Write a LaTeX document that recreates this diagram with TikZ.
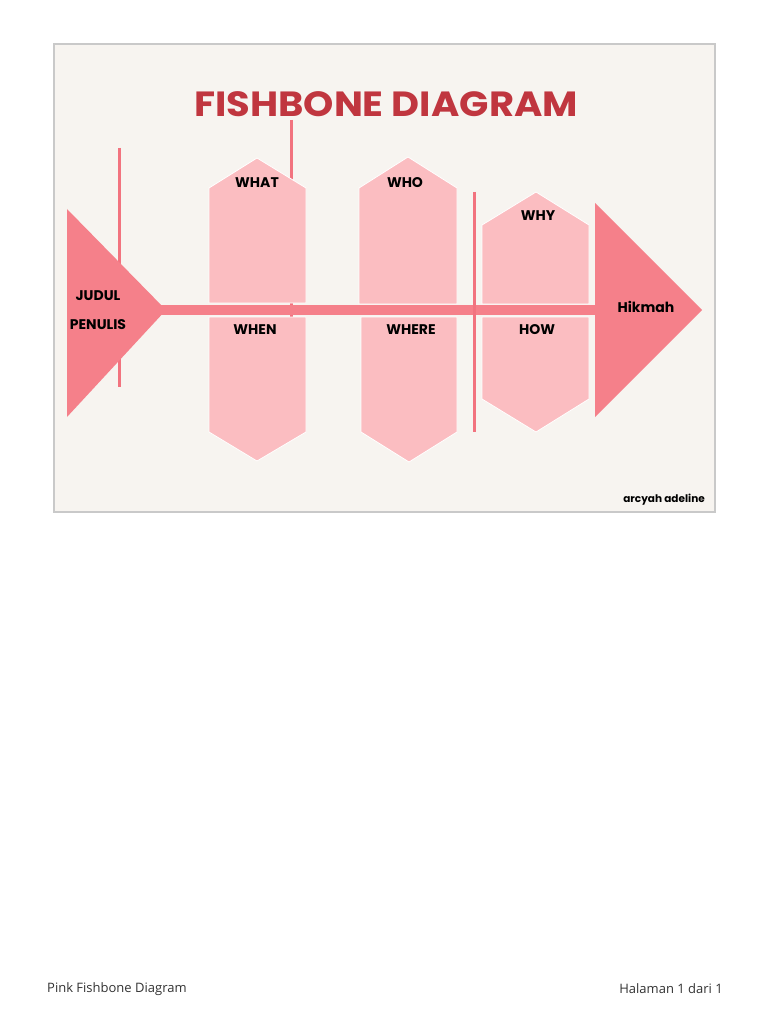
\documentclass[tikz,border=0pt]{standalone}
\usepackage{fontspec}
\setmainfont{Open Sans}
\newfontfamily\pop{Poppins}
\definecolor{bgc}{HTML}{F7F4F0}
\definecolor{framec}{HTML}{C9C9C9}
\definecolor{titlec}{HTML}{C0363F}
\definecolor{darkpink}{HTML}{F5808A}
\definecolor{lightpink}{HTML}{FBBDC1}
\definecolor{bonec}{HTML}{F2737F}
\definecolor{footc}{HTML}{333333}
\begin{document}
\begin{tikzpicture}[x=1pt,y=-1pt,
  lbl/.style={font=\pop\bfseries\fontsize{14}{16}\selectfont, text=black, inner sep=0pt, anchor=center},
  pent/.style={fill=lightpink, draw=white, line width=0.8pt},
  head/.style={fill=darkpink},
  bone/.style={draw=bonec, line width=3pt},
  foot/.style={font=\fontsize{13}{15}\selectfont, text=footc, inner sep=0pt}]
\useasboundingbox (0,0) rectangle (768,1024);
\fill[white] (0,0) rectangle (768,1024);
\draw[framec, fill=bgc, line width=1.3pt] (54,44) rectangle (715,512);
% title
\node[font=\pop\bfseries\fontsize{35}{38}\selectfont, text=titlec, inner sep=0pt] (title) at (386,104) {\scalebox{1.1}[1]{FISHBONE DIAGRAM}};
% bones behind shapes
\coordinate (b1t) at (119,148); \coordinate (b1b) at (119,387);
\coordinate (b2t) at (291,120); \coordinate (b2b) at (291,317);
\coordinate (b3t) at (474,192); \coordinate (b3b) at (474,432);
\draw[bone] (b1t) -- (b1b);
\draw[bone] (b2t) -- (b2b);
% spine
\fill[darkpink] (160,305) rectangle (597,315);
% tail triangle
\fill[head] (67,209) -- (166,310) -- (67,417) -- cycle;
% head triangle
\fill[head] (595,203) -- (702,310) -- (595,417) -- cycle;
% pentagons
\path[pent] (209,303) -- (209,188) -- (257,158) -- (306,188) -- (306,303) -- cycle;
\path[pent] (209,317) -- (209,432) -- (257,461) -- (306,432) -- (306,317) -- cycle;
\path[pent] (359,304) -- (359,188) -- (408,157) -- (457,188) -- (457,304) -- cycle;
\path[pent] (361,317) -- (361,432) -- (409,462) -- (457,432) -- (457,317) -- cycle;
\path[pent] (482,304) -- (482,225) -- (536,192) -- (589,225) -- (589,304) -- cycle;
\path[pent] (482,317) -- (482,399) -- (536,432) -- (589,399) -- (589,317) -- cycle;
\draw[bone] (b3t) -- (b3b);
% labels
\node[lbl] (what) at (257,183) {WHAT};
\node[lbl] (who) at (405,183) {WHO};
\node[lbl] (why) at (538,216) {WHY};
\node[lbl] (when) at (255,330) {WHEN};
\node[lbl] (where) at (411,330) {WHERE};
\node[lbl] (how) at (537,330) {HOW};
\node[lbl] (judul) at (98,296) {JUDUL};
\node[lbl] (penulis) at (98,325) {PENULIS};
\node[lbl] (hikmah) at (646,307) {Hikmah};
\node[lbl, font=\pop\bfseries\fontsize{10.5}{12}\selectfont, anchor=east] (author) at (705,500) {arcyah adeline};
% footer
\node[foot, anchor=west] (footl) at (47,989) {Pink Fishbone Diagram};
\node[foot, anchor=east] (footr) at (723,989) {Halaman 1 dari 1};
\end{tikzpicture}
\end{document}
